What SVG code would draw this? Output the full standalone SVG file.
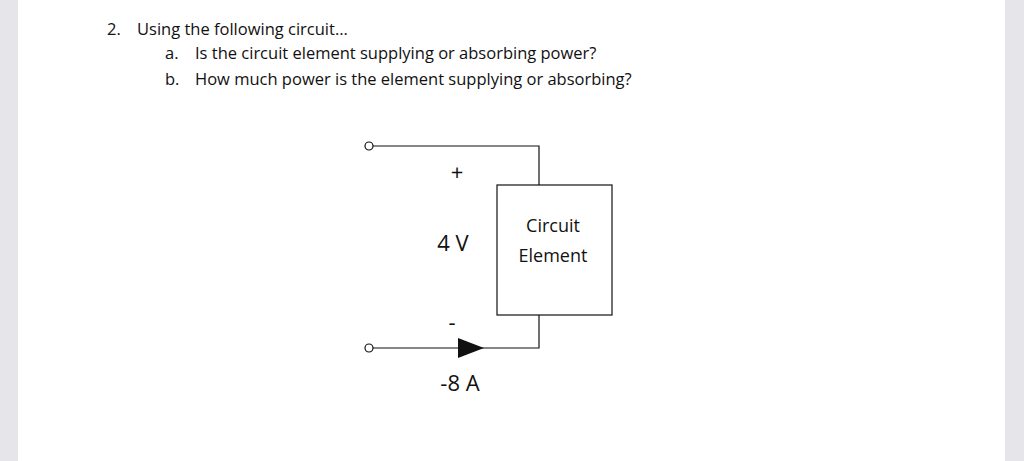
<svg xmlns="http://www.w3.org/2000/svg" width="1024" height="461" viewBox="0 0 1024 461">
<style>
text{font-family:"Open Sans","Liberation Sans",sans-serif;fill:#111}
.q{font-size:16.5px}
.l{font-size:22px;text-anchor:middle}
.e{font-size:18px;text-anchor:middle}
.w{stroke:#111;stroke-width:1.2;fill:none}
</style>
<rect width="1024" height="461" fill="#fff"/>
<rect x="0" y="0" width="18" height="461" fill="#e6e6ea"/>
<rect x="1005" y="0" width="19" height="461" fill="#e6e6ea"/>
<g id="questions">
<text class="q" x="107" y="35">2.</text><text class="q" x="137" y="35">Using the following circuit…</text>
<text class="q" x="165" y="59">a.</text><text class="q" x="195" y="59">Is the circuit element supplying or absorbing power?</text>
<text class="q" x="165" y="85">b.</text><text class="q" x="195" y="85">How much power is the element supplying or absorbing?</text>
</g>
<g id="connectors">
<polyline class="w" points="373,146 539,146 539,185"/>
<polyline class="w" points="373,348 539,348 539,315"/>
<polygon points="458,338 484,348 458,358" fill="#111"/>
</g>
<g id="terminal-top"><circle class="w" cx="369" cy="146" r="4"/></g>
<g id="terminal-bottom"><circle class="w" cx="369" cy="348" r="4"/></g>
<g id="element">
<rect class="w" x="497" y="185" width="115" height="130"/>
<text class="e" x="553" y="232">Circuit</text>
<text class="e" x="553" y="262">Element</text>
</g>
<g id="labels">
<text class="l" x="457" y="180">+</text>
<text class="l" x="453" y="251">4 V</text>
<text class="l" x="452" y="330">-</text>
<text class="l" x="460" y="391">-8 A</text>
</g>
</svg>
